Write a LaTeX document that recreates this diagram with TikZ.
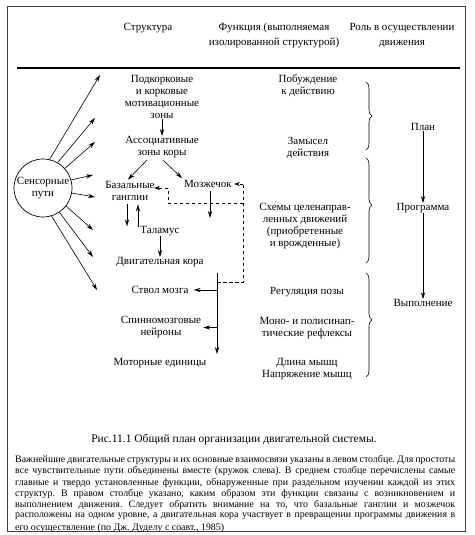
\documentclass[tikz,border=0pt]{standalone}
\usepackage{fontspec}
\setmainfont{Liberation Serif}
\usetikzlibrary{arrows.meta,decorations.pathreplacing,calc}
\frenchspacing
\begin{document}
\begin{tikzpicture}[x=1pt,y=-1pt,
  txt/.style={font=\fontsize{11}{12}\selectfont, align=center, inner sep=0pt},
  hdr/.style={font=\fontsize{11}{14.5}\selectfont, align=center, inner sep=0pt},
  arr/.style={-{Stealth[length=7pt,width=4.2pt]}, line width=0.6pt},
  dsh/.style={dash pattern=on 3.5pt off 2.5pt, line width=1pt},
  brc/.style={decorate, decoration={brace, amplitude=6pt}, line width=0.6pt},
  par/.style={font=\fontsize{9.9}{11}\selectfont, inner sep=0pt, anchor=west}]
\useasboundingbox (0,0) rectangle (474,535);
% frame
\draw[line width=0.9pt, black!75] (7,6) rectangle (465,531);
\draw[line width=1.3pt] (17,68) -- (460,68);
% headers
\node[hdr] (h1) at (148,28) {Структура};
\node[hdr] (h2) at (274,35.5) {Функция (выполняемая\\изолированной структурой)};
\node[hdr] (h3) at (402,35.5) {Роль в осуществлении\\движения};
% structure column
\node[txt] (motiv) at (162,97) {Подкорковые\\и корковые\\мотивационные\\зоны};
\node[txt] (assoc) at (162,147) {Ассоциативные\\зоны коры};
\node[txt] (bas) at (130,190.5) {Базальные\\ганглии};
\node[txt] (cereb) at (208,184) {Мозжечок};
\node[txt] (thal) at (160,231) {Таламус};
\node[txt] (mcort) at (160,262) {Двигательная кора};
\node[txt] (stem) at (160,290) {Ствол мозга};
\node[txt] (spinal) at (161,327.5) {Спинномозговые\\нейроны};
\node[txt] (motor) at (160,363) {Моторные единицы};
\node[txt, draw, circle, line width=0.7pt, minimum size=58pt] (sens) at (43,188) {Сенсорные\\пути};
% function column
\node[txt] (f1) at (308,86) {Побуждение\\к действию};
\node[txt] (f2) at (308,147.5) {Замысел\\действия};
\node[txt] (f3) at (305,226) {Схемы целенаправ-\\ленных движений\\(приобретенные\\и врожденные)};
\node[txt] (f4) at (307,292) {Регуляция позы};
\node[txt] (f5) at (307,328.5) {Моно- и полисинап-\\тические рефлексы};
\node[txt] (f6) at (307,369) {Длина мышц\\Напряжение мышц};
% role column
\node[txt] (plan) at (423,127) {План};
\node[txt] (prog) at (423,208) {Программа};
\node[txt] (exec) at (423,303) {Выполнение};
% braces
\draw[brc] (366,82) -- (366,150);
\draw[brc, decoration={aspect=0.45}] (366,158) -- (366,263);
\draw[brc, decoration={aspect=0.45}] (366,273) -- (366,377);
% role arrows
\draw[arr] (plan) -- (prog);
\draw[arr] (prog) -- (exec);
% sensory arrows
\coordinate (e1) at (100,75);
\coordinate (e2) at (95,118);
\coordinate (e3) at (95,142);
\coordinate (e4) at (93,175);
\coordinate (e5) at (95,197);
\coordinate (e6) at (93,230);
\coordinate (e7) at (93,257);
\coordinate (e8) at (97,290);
\draw[arr] (sens.77) -- (e1);
\draw[arr] (sens.60) -- (e2);
\draw[arr] (sens.42) -- (e3);
\draw[arr] (sens.16) -- (e4);
\draw[arr] (sens.-10) -- (e5);
\draw[arr] (sens.-38) -- (e6);
\draw[arr] (sens.-56) -- (e7);
\draw[arr] (sens.-73) -- (e8);
% structure arrows
\draw[arr] (motiv) -- (assoc);
\draw[arr] ($(assoc.south)+(-15,2)$) -- ($(bas.north)+(-2,-1)$);
\draw[arr] ($(assoc.south)+(1,2)$) -- ($(cereb.north)+(-26,-2)$);
\coordinate (c1) at (210,218);
\draw[arr] ($(cereb.south)+(2,3)$) -- (c1);
\draw[arr] ($(bas.south)+(-3,4)$) -- ++(0,22);
\draw[arr] ($(bas.south)+(8,27)$) -- ++(0,-23);
\draw[arr] (thal) -- (mcort);
\coordinate (vtop) at (217,273);
\draw[arr] (vtop) -- ($(vtop |- motor.north)+(0,-4)$);
\draw[arr] (vtop |- stem) -- ($(stem.east)+(5,0)$);
\draw[arr] (vtop |- spinal) -- ($(spinal.east)+(2,0)$);
% dashed loops
\coordinate (d1) at (243,282);
\draw[dsh] (vtop |- d1) -- (d1) -- (243,184);
\draw[dsh, -{Stealth[length=6pt,width=4.2pt]}] (243,184) -- ($(cereb.east)+(2,0)$);
\draw[dsh] (243,203) -- (168,203) -- (168,188);
\draw[dsh, -{Stealth[length=6pt,width=4.2pt]}] (168,188) -- (154,188);
% caption
\node[inner sep=0pt, font=\fontsize{11.5}{13}\selectfont] (cap) at (234,440) {Рис.11.1 Общий план организации двигательной системы.};
\node[par] (p1) at (15,460) {\makebox[440pt][s]{Важнейшие двигательные структуры и их основные взаимосвязи указаны в левом столбце. Для простоты}};
\node[par] (p2) at (15,471.3) {\makebox[440pt][s]{все чувствительные пути объединены вместе (кружок слева). В среднем столбце перечислены самые}};
\node[par] (p3) at (15,482.6) {\makebox[440pt][s]{главные и твердо установленные функции, обнаруженные при раздельном изучении каждой из этих}};
\node[par] (p4) at (15,494) {\makebox[440pt][s]{структур. В правом столбце указано, каким образом эти функции связаны с возникновением и}};
\node[par] (p5) at (15,505.3) {\makebox[440pt][s]{выполнением движения. Следует обратить внимание на то, что базальные ганглии и мозжечок}};
\node[par] (p6) at (15,516.6) {\makebox[440pt][s]{расположены на одном уровне, а двигательная кора участвует в превращении программы движения в}};
\node[par] (p7) at (15,528) {его осуществление (по Дж. Дуделу с соавт., 1985)};
\end{tikzpicture}
\end{document}
